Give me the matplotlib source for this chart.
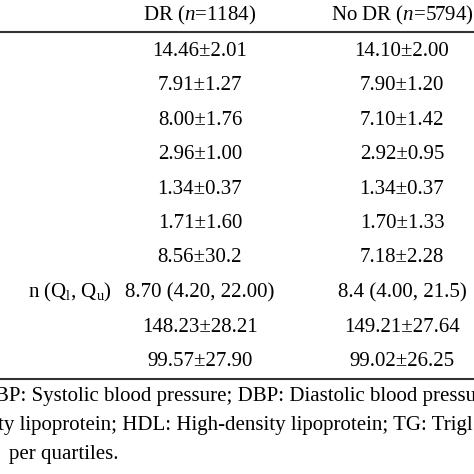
import matplotlib
matplotlib.use("Agg")
import matplotlib.pyplot as plt

headers = ["DR ($\\it{n}$=1184)", "No DR ($\\it{n}$=5794)"]
dr = ["14.46±2.01", "7.91±1.27", "8.00±1.76", "2.96±1.00", "1.34±0.37",
      "1.71±1.60", "8.56±30.2", "8.70 (4.20, 22.00)", "148.23±28.21", "99.57±27.90"]
nodr = ["14.10±2.00", "7.90±1.20", "7.10±1.42", "2.92±0.95", "1.34±0.37",
        "1.70±1.33", "7.18±2.28", "8.4 (4.00, 21.5)", "149.21±27.64", "99.02±26.25"]
left_labels = {7: "n (Q$_\\mathrm{l}$, Q$_\\mathrm{u}$)"}
footnotes = ["BP: Systolic blood pressure; DBP: Diastolic blood pressure",
             "ty lipoprotein; HDL: High-density lipoprotein; TG: Trigl",
             "per quartiles."]
foot_x = [-0.01, -0.005, 0.02]

plt.rcParams['font.family'] = ['Liberation Serif']
plt.rcParams['mathtext.fontset'] = 'custom'
plt.rcParams['mathtext.it'] = 'Liberation Serif:italic'
plt.rcParams['mathtext.rm'] = 'Liberation Serif'
fig = plt.figure(figsize=(4.74, 4.74), dpi=100)
ax = fig.add_axes([0, 0, 1, 1])
ax.set_xlim(0, 474); ax.set_ylim(474, 0); ax.axis('off')
fs = 15
cx = [200, 402]
ax.text(cx[0], 15, headers[0], ha='center', va='center', fontsize=fs)
ax.text(cx[1], 15, headers[1], ha='center', va='center', fontsize=fs, clip_on=False)
ax.plot([0, 474], [32, 32], color='#333', lw=1.5)
sp = 34.5
for i, (a, b) in enumerate(zip(dr, nodr)):
    y = 51 + i * sp
    ax.text(cx[0], y, a, ha='center', va='center', fontsize=fs)
    ax.text(cx[1], y, b, ha='center', va='center', fontsize=fs)
    if i in left_labels:
        ax.text(112, y, left_labels[i], ha='right', va='center', fontsize=fs)
ybot = 51 + 9 * sp + 17
ax.plot([0, 474], [ybot, ybot], color='#333', lw=1.5)
for j, t in enumerate(footnotes):
    ax.text(foot_x[j] * 474, ybot + 18 + j * 29, t, ha='left', va='center', fontsize=fs)
fig.savefig("out.png", dpi=100)
